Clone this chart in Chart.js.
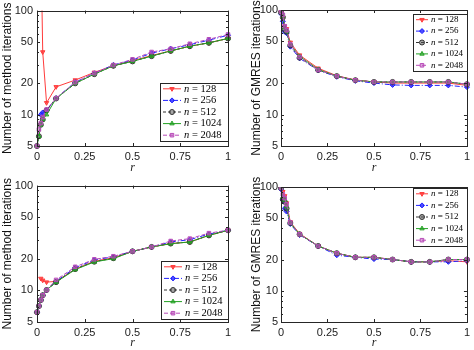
<!DOCTYPE html>
<html>
<head>
<meta charset="utf-8">
<script src="https://cdn.jsdelivr.net/npm/chart.js@4.4.1/dist/chart.umd.min.js"></script>
<style>
html, body { margin: 0; padding: 0; background: #fff; }
#wrap { position: relative; width: 474px; height: 350px; overflow: hidden; }
canvas { position: absolute; }
</style>
</head>
<body>
<div id="wrap">
  <canvas id="tl" width="237" height="175" style="left:0;top:0"></canvas>
  <canvas id="tr" width="237" height="175" style="left:237px;top:0"></canvas>
  <canvas id="bl" width="237" height="175" style="left:0;top:175px"></canvas>
  <canvas id="br" width="237" height="175" style="left:237px;top:175px"></canvas>
</div>
<script>
// r values shared by all panels
const rValues = [0, 0.01, 0.02, 0.03, 0.05, 0.1, 0.2, 0.3, 0.4, 0.5, 0.6, 0.7, 0.8, 0.9, 1];
const nLabels = ['128', '256', '512', '1024', '2048'];
const xTicks = [0, 0.25, 0.5, 0.75, 1];
const yTicks = [5, 10, 20, 50, 100];

// top left: method iterations (values > 100 are off the chart)
const tlN128 = [500, 500, 500, 40, 13, 18.5, 21.5, 25.5, 29.5, 33, 37, 41, 45.5, 49, 54];
const tlN256 = [null, null, 10, 10.5, 11, 14.4, 20.5, 25, 30, 33.5, 39, 43, 47, 52, 58];
const tlN512 = [5, 6.2, 8, 9, 11, 14.3, 20, 24.5, 29.5, 32.5, 36.5, 41, 45.5, 49, 54];
const tlN1024 = [5, 6.2, 8, 9, 10, 14.3, 20, 24.5, 29.5, 32.5, 36.5, 41, 45.5, 49, 54];
const tlN2048 = [5, 7.2, 8.3, 9.5, 11.2, 14.4, 20.5, 25, 30, 34, 40, 43, 48, 53, 59];

// top right: GMRES iterations
const trN128 = [95, 85, 70, 66, 49, 37, 27.7, 23.5, 21.4, 20.5, 20, 20, 20, 20, 19];
const trN256 = [92, 78, 62, 60, 44.6, 34.5, 26.5, 23, 21, 20, 19.2, 19, 19, 19, 18.3];
const trN512 = [95, 85, 65, 62, 46, 35, 26.7, 23.3, 21.3, 20.5, 20.5, 20.5, 20.5, 20.5, 19.5];
const trN1024 = [95, 88, 68, 63, 47, 36, 27, 23.3, 21.3, 20.5, 20.5, 20.5, 20.5, 20.5, 19.5];
const trN2048 = [96, 90, 70, 64, 47, 35.5, 26.7, 23.3, 21.3, 20.5, 20.5, 20.5, 20.5, 20.5, 19.5];

// bottom left: method iterations
const blN128 = [null, null, 13, 12.5, 12, 12.2, 16, 19, 20.5, 23.6, 26, 28, 29, 33.5, 37.5];
const blN256 = [6.2, 7.1, 8.1, 9, 10.1, 12.2, 16.5, 19.5, 21, 23.6, 26, 29, 30.5, 34.5, 37.5];
const blN512 = [6.2, 7.1, 8.1, 9, 10.1, 12, 16, 18.8, 20.3, 23.6, 26, 28, 29, 33.5, 37.5];
const blN1024 = [6.2, 7.1, 8.1, 9, 10.1, 12, 15.8, 18.7, 20.1, 23.6, 26, 27.9, 29, 33.5, 37.5];
const blN2048 = [6.2, 7.1, 8.1, 9, 10.1, 12.6, 16.8, 19.8, 21.2, 23.6, 26, 29.6, 31.2, 35.2, 37.5];

// bottom right: GMRES iterations
const brN128 = [97, 90, 82, 70, 46, 35.5, 27, 23, 21, 21, 20, 19, 19, 19.5, 19];
const brN256 = [95, 75, 62, 58, 44, 34.5, 27, 22, 21, 20.2, 20, 19, 19, 19, 19.5];
const brN512 = [98, 76, 72, 62, 45, 35, 27, 23, 21, 21, 20, 19, 19, 20, 20];
const brN1024 = [98, 80, 75, 65, 45, 35, 27, 23, 21, 21, 20, 19, 19, 20, 20];
const brN2048 = [98, 85, 78, 68, 45.5, 35, 27, 23, 21, 21, 20, 19, 19, 20, 20];

const minorTicks = [6, 7, 8, 9, 30, 40, 60, 70, 80, 90];

const styles = [
    { color: '#ff3b3b', fill: 'rgba(255,59,59,0.8)', dash: [], point: 'triangle', rot: 180 },
    { color: '#2020ff', fill: 'rgba(32,32,255,0.8)', dash: [5, 2, 1, 2], point: 'rectRot', rot: 0 },
    { color: '#333333', fill: 'rgba(80,80,80,0.5)', dash: [3, 2], point: 'circle', rot: 0 },
    { color: '#22a022', fill: 'rgba(34,160,34,0.5)', dash: [], point: 'triangle', rot: 0 },
    { color: '#b84cb8', fill: 'rgba(184,76,184,0.5)', dash: [4, 2], point: 'rect', rot: 0 }
];

const boxPlugin = {
    id: 'box',
    afterDraw(chart) {
        const ctx = chart.ctx;
        const a = chart.chartArea;
        const xs = chart.scales.x, ys = chart.scales.y;
        ctx.save();
        ctx.strokeStyle = '#262626';
        ctx.lineWidth = 1;
        ctx.setLineDash([]);
        ctx.strokeRect(Math.round(a.left) + 0.5, Math.round(a.top) + 0.5,
            Math.round(a.right - a.left), Math.round(a.bottom - a.top));
        ctx.beginPath();
        xTicks.forEach(v => {
            const px = Math.round(xs.getPixelForValue(v)) + 0.5;
            ctx.moveTo(px, a.bottom); ctx.lineTo(px, a.bottom - 3);
            ctx.moveTo(px, a.top); ctx.lineTo(px, a.top + 3);
        });
        yTicks.forEach(v => {
            const py = Math.round(ys.getPixelForValue(v)) + 0.5;
            ctx.moveTo(a.left, py); ctx.lineTo(a.left + 3, py);
            ctx.moveTo(a.right, py); ctx.lineTo(a.right - 3, py);
        });
        minorTicks.forEach(v => {
            const py = Math.round(ys.getPixelForValue(v)) + 0.5;
            ctx.moveTo(a.left, py); ctx.lineTo(a.left + 2, py);
            ctx.moveTo(a.right, py); ctx.lineTo(a.right - 2, py);
        });
        ctx.stroke();

        // legend
        const lg = chart.options.plugins.box;
        ctx.fillStyle = '#fff';
        ctx.fillRect(lg.x, lg.y, lg.w, lg.h);
        ctx.strokeStyle = '#262626';
        ctx.strokeRect(lg.x + 0.5, lg.y + 0.5, lg.w, lg.h);
        chart.data.datasets.forEach((ds, i) => {
            const st = styles[i];
            const cy = lg.y + lg.h * (i + 0.5) / 5;
            const x0 = lg.x + 3, x1 = x0 + lg.sample;
            ctx.strokeStyle = st.color;
            ctx.setLineDash(st.dash);
            ctx.beginPath();
            ctx.moveTo(x0, cy); ctx.lineTo(x1, cy);
            ctx.stroke();
            ctx.setLineDash([]);
            ctx.fillStyle = st.fill;
            Chart.helpers.drawPoint(ctx, { pointStyle: st.point, rotation: st.rot, radius: 2.5, borderWidth: 1 },
                (x0 + x1) / 2, cy);
            ctx.fillStyle = '#000';
            ctx.textBaseline = 'middle';
            ctx.font = 'italic ' + lg.font + 'px "Liberation Serif", serif';
            ctx.fillText('n', x1 + 3, cy);
            const nw = ctx.measureText('n').width;
            ctx.font = lg.font + 'px "Liberation Serif", serif';
            ctx.fillText(' = ' + nLabels[i], x1 + 3 + nw, cy);
        });
        ctx.restore();
    }
};

function makePanel(id, series, yTitle, lay, legend) {
    const datasets = series.map((vals, i) => ({
        label: 'n = ' + nLabels[i],
        data: rValues.map((r, k) => ({ x: r, y: vals[k] })),
        borderColor: styles[i].color,
        backgroundColor: styles[i].fill,
        borderWidth: 1,
        borderDash: styles[i].dash,
        pointStyle: styles[i].point,
        rotation: styles[i].rot,
        pointRadius: 2.5,
        pointBorderWidth: 1,
        pointBorderColor: styles[i].color,
        pointBackgroundColor: styles[i].fill,
        clip: { left: 5, right: 5, top: 0, bottom: 5 },
        order: 5 - i,
        fill: false
    }));

    new Chart(document.getElementById(id), {
        type: 'line',
        data: { datasets: datasets },
        plugins: [boxPlugin],
        options: {
            responsive: false,
            animation: false,
            devicePixelRatio: 1,
            layout: { padding: { top: lay.top, right: lay.right, left: 0, bottom: 0 } },
            plugins: {
                legend: { display: false },
                tooltip: { enabled: false },
                box: legend
            },
            scales: {
                x: {
                    type: 'linear',
                    min: 0,
                    max: 1,
                    afterBuildTicks: s => { s.ticks = xTicks.map(v => ({ value: v })); },
                    afterFit: s => { s.height = lay.xh; },
                    grid: { display: false, drawTicks: false },
                    border: { display: false },
                    ticks: {
                        padding: 4,
                        color: '#222',
                        font: { family: '"Liberation Sans", Arial, sans-serif', size: 11 },
                        maxRotation: 0,
                        callback: v => String(v)
                    },
                    title: {
                        display: true,
                        text: 'r',
                        color: '#222',
                        padding: { top: 0, bottom: 0 },
                        font: { family: '"Liberation Serif", serif', size: 12, style: 'italic' }
                    }
                },
                y: {
                    type: 'logarithmic',
                    min: 5,
                    max: 100,
                    afterBuildTicks: s => { s.ticks = yTicks.map(v => ({ value: v })); },
                    afterFit: s => { s.width = lay.yw; },
                    grid: { display: false, drawTicks: false },
                    border: { display: false },
                    ticks: {
                        padding: lay.ypad,
                        color: '#222',
                        font: { family: '"Liberation Sans", Arial, sans-serif', size: 11 },
                        callback: v => String(v)
                    },
                    title: {
                        display: true,
                        text: yTitle,
                        color: '#111',
                        padding: { top: lay.tpad, bottom: 0 },
                        font: { family: '"Liberation Sans", Arial, sans-serif', size: 12 }
                    }
                }
            }
        }
    });
}

makePanel('tl', [tlN128, tlN256, tlN512, tlN1024, tlN2048], 'Number of method iterations',
    { top: 10, right: 9, yw: 37, xh: 29, ypad: 4, tpad: 0 },
    { x: 160, y: 83, w: 68, h: 58, font: 10.5, sample: 18 });
makePanel('tr', [trN128, trN256, trN512, trN1024, trN2048], 'Number of GMRES iterations',
    { top: 10, right: 4, yw: 44, xh: 29, ypad: 3, tpad: 12 },
    { x: 176, y: 14, w: 54, h: 57, font: 9, sample: 12 });
makePanel('bl', [blN128, blN256, blN512, blN1024, blN2048], 'Number of method iterations',
    { top: 10, right: 9, yw: 37, xh: 28, ypad: 4, tpad: 0 },
    { x: 161, y: 86, w: 67, h: 58, font: 10.5, sample: 18 });
makePanel('br', [brN128, brN256, brN512, brN1024, brN2048], 'Number of GMRES iterations',
    { top: 12, right: 4, yw: 44, xh: 28, ypad: 3, tpad: 12 },
    { x: 176, y: 13, w: 54, h: 58, font: 9, sample: 12 });
</script>
</body>
</html>
